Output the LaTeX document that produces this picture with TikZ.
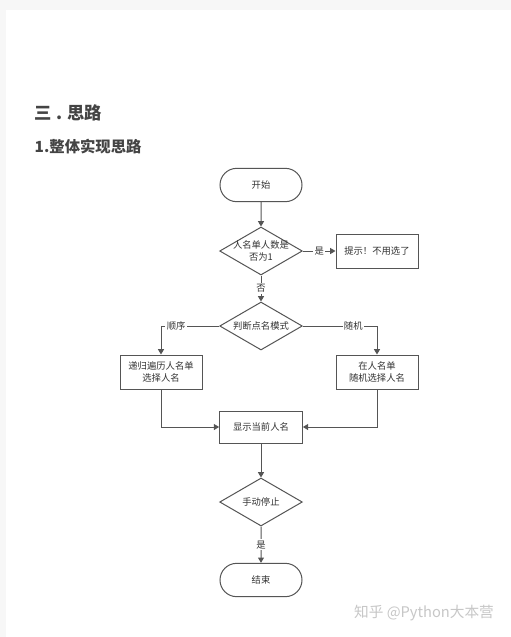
\documentclass[tikz,border=0pt]{standalone}
\usepackage{fontspec}
\setmainfont{Noto Sans CJK SC}
\usetikzlibrary{arrows.meta,shapes.geometric,shapes.misc}

\definecolor{linegray}{HTML}{555555}
\definecolor{textgray}{HTML}{333333}
\definecolor{headgray}{HTML}{444444}

\tikzset{
    startstop/.style={rounded rectangle, draw=linegray, line width=0.75pt,
        minimum width=61.5pt, minimum height=25pt, inner sep=0pt},
    process/.style={rectangle, draw=linegray, line width=0.75pt,
        minimum width=61.5pt, minimum height=25.5pt, inner sep=1pt, align=center},
    decision/.style={diamond, draw=linegray, line width=0.75pt,
        minimum width=62pt, minimum height=36pt, inner sep=0pt},
    flow/.style={draw=linegray, line width=0.75pt,
        -{Triangle[width=4.5pt,length=4pt]}},
    edgelabel/.style={fill=white, inner sep=1pt, text=textgray}
}

\begin{document}
\begin{tikzpicture}[x=0.75pt, y=-0.75pt,
    every node/.style={font=\fontsize{7}{9}\selectfont, text=textgray}]

\useasboundingbox (0,0) rectangle (511,637);
\fill[white] (0,0) rectangle (511,637);

% faint page edges
\fill[black!3] (0,0) rectangle (511,10);
\fill[black!3] (0,10) rectangle (6,637);

% Headings
\node[anchor=west, font=\fontsize{13}{15}\bfseries\selectfont, text=headgray] (title) at (30,113) {三 . 思路};
\node[anchor=west, font=\fontsize{11.5}{14}\bfseries\selectfont, text=headgray] (subtitle) at (30,147) {1.整体实现思路};

% Nodes
\node[startstop] (start) at (261,185) {开始};
\node[decision, label={[align=center, text=textgray]center:人名单人数是\\否为1}] (count) at (261,251) {};
\node[process] (tip) at (377,251) {提示！不用选了};
\node[decision, label={[text=textgray]center:判断点名模式}] (mode) at (261,326) {};
\node[process] (order) at (161,372) {递归遍历人名单\\选择人名};
\node[process] (random) at (377,372) {在人名单\\随机选择人名};
\node[process, minimum width=62pt, minimum height=24pt] (show) at (261,427) {显示当前人名};
\node[decision, label={[text=textgray]center:手动停止}] (stop) at (261,502) {};
\node[startstop] (finish) at (261,580) {结束};

% Connectors
\draw[flow] (start) -- (count);
\draw[flow] (count) -- node[edgelabel] {是} (tip);
\draw[flow] (count) -- node[edgelabel] {否} (mode);
\draw[flow] (mode.west) -| node[edgelabel, pos=0.37] {顺序} (order.north);
\draw[flow] (mode.east) -| node[edgelabel, pos=0.34] {随机} (random.north);
\draw[flow] (order.south) |- (show.west);
\draw[flow] (random.south) |- (show.east);
\draw[flow] (show) -- (stop);
\draw[flow] (stop) -- node[edgelabel] {是} (finish);

% Watermark
\node[font=\fontsize{11}{13}\selectfont, text=black!22] (mark) at (424,613) {知乎 @Python大本营};

\end{tikzpicture}
\end{document}
